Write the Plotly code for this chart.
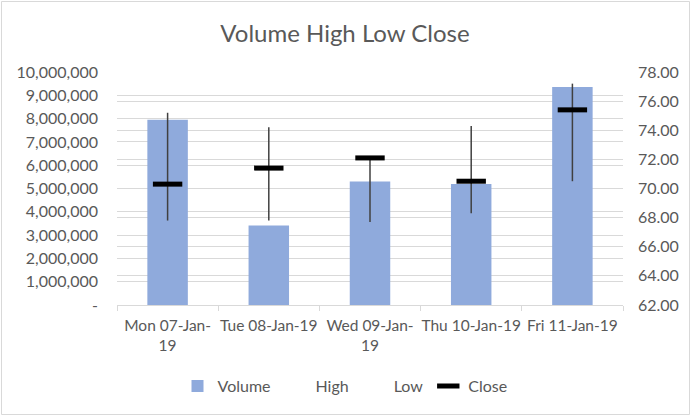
import plotly.graph_objects as go

categories = ["Mon 07-Jan-19", "Tue 08-Jan-19", "Wed 09-Jan-19", "Thu 10-Jan-19", "Fri 11-Jan-19"]
tick_labels = ["Mon 07-Jan-<br>19", "Tue 08-Jan-19", "Wed 09-Jan-<br>19", "Thu 10-Jan-19", "Fri 11-Jan-19"]
volume = [7950000, 3410000, 5300000, 5190000, 9360000]
high = [75.2, 74.2, 72.2, 74.3, 77.2]
low = [67.8, 67.8, 67.7, 68.3, 70.5]
close = [70.3, 71.4, 72.1, 70.5, 75.4]

left_vals = [0, 1e6, 2e6, 3e6, 4e6, 5e6, 6e6, 7e6, 8e6, 9e6, 1e7]
left_text = ["-"] + [f"{int(v):,}" for v in left_vals[1:]]

FONT = "Lato"
GREY = "#595959"
GRID = "#d9d9d9"

fig = go.Figure()
fig.add_trace(go.Bar(x=categories, y=volume, name="Volume", marker_color="#8faadc",
                     marker_line_width=0, yaxis="y"))

# High-low lines
hx, hy = [], []
for c, h, l in zip(categories, high, low):
    hx += [c, c, None]
    hy += [l, h, None]
fig.add_trace(go.Scatter(x=hx, y=hy, mode="lines", line=dict(color="#404040", width=1.5),
                         showlegend=False, yaxis="y2", hoverinfo="skip"))
fig.add_trace(go.Scatter(x=categories, y=high, name="High", mode="markers",
                         marker=dict(size=1, color="rgba(0,0,0,0)"), yaxis="y2"))
fig.add_trace(go.Scatter(x=categories, y=low, name="Low", mode="markers",
                         marker=dict(size=1, color="rgba(0,0,0,0)"), yaxis="y2"))
fig.add_trace(go.Scatter(x=categories, y=close, name="Close", mode="markers",
                         marker=dict(symbol="line-ew", size=21, line=dict(width=5, color="black"), color="black"),
                         yaxis="y2"))

W, H = 690, 415
L, R, T, B = 117, 67, 72, 110
pw, ph = W - L - R, H - T - B

fig.update_layout(
    width=W, height=H,
    margin=dict(l=L, r=R, t=T, b=B),
    paper_bgcolor="white", plot_bgcolor="white",
    font=dict(family=FONT, color=GREY, size=15),
    title=dict(text="Volume High Low Close", x=0.5, xanchor="center", y=1 - 34 / H, yanchor="middle",
               font=dict(size=24, color=GREY, family=FONT)),
    bargap=0.6,
    showlegend=True,
    legend=dict(orientation="h", x=(W / 2 - L) / pw, xanchor="center", y=-(386 - (T + ph)) / ph,
                yanchor="middle", font=dict(size=16, color=GREY), traceorder="normal", itemwidth=30),
    xaxis=dict(type="category", tickvals=categories, ticktext=tick_labels, showline=True,
               linecolor=GRID, linewidth=1, ticks="outside", tickson="boundaries",
               tickcolor=GRID, ticklen=5, showgrid=False, ticklabelstandoff=6, tickangle=0,
               tickfont=dict(size=15.5, color=GREY)),
    yaxis=dict(range=[0, 1e7], tickvals=left_vals, ticktext=left_text, showgrid=True,
               gridcolor=GRID, gridwidth=1, zeroline=False, showline=False, ticks="",
               ticklabelstandoff=18, tickfont=dict(size=16, color=GREY)),
    yaxis2=dict(range=[62, 78], overlaying="y", side="right", dtick=2, tickformat=".2f",
                showgrid=True, gridcolor=GRID, gridwidth=1, zeroline=False, showline=False,
                ticklabelstandoff=14, tickfont=dict(size=16, color=GREY)),
    shapes=[dict(type="rect", xref="paper", yref="paper",
                 x0=-(L - 1.5) / pw, x1=1 + (R - 0.5) / pw,
                 y0=-(B - 0.5) / ph, y1=1 + (T - 1.5) / ph,
                 line=dict(color=GRID, width=1), fillcolor="rgba(0,0,0,0)", layer="below")],
)

fig.write_html("out.html")
